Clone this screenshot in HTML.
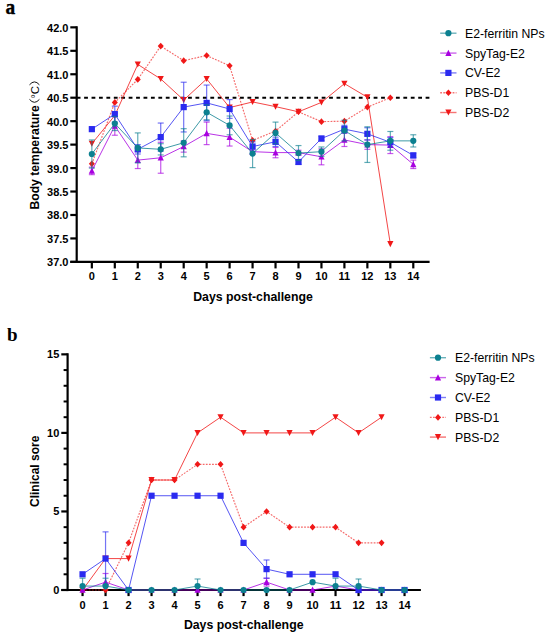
<!DOCTYPE html>
<html><head><meta charset="utf-8"><style>
html,body{margin:0;padding:0;background:#fff;}
body{width:550px;height:637px;overflow:hidden;}
svg{display:block;}
</style></head><body>
<svg width="550" height="637" viewBox="0 0 550 637">
<rect width="550" height="637" fill="#fff"/>
<text transform="translate(5.6,13.8) scale(0.97,1)" font-family='"Liberation Serif", serif' font-size="20" font-weight="bold" stroke="#000" stroke-width="0.35">a</text>
<line x1="76.70" y1="26.25" x2="76.70" y2="263.00" stroke="#000" stroke-width="2.2"/>
<line x1="70.3" y1="261.90" x2="429.6" y2="261.90" stroke="#000" stroke-width="2.2"/>
<line x1="70.3" y1="261.90" x2="76.70" y2="261.90" stroke="#000" stroke-width="2.2"/>
<text x="68.50" y="266.40" font-family='"Liberation Sans", sans-serif' font-size="11" font-weight="bold" text-anchor="end">37.0</text>
<line x1="70.3" y1="238.44" x2="76.70" y2="238.44" stroke="#000" stroke-width="2.2"/>
<text x="68.50" y="242.94" font-family='"Liberation Sans", sans-serif' font-size="11" font-weight="bold" text-anchor="end">37.5</text>
<line x1="70.3" y1="214.99" x2="76.70" y2="214.99" stroke="#000" stroke-width="2.2"/>
<text x="68.50" y="219.49" font-family='"Liberation Sans", sans-serif' font-size="11" font-weight="bold" text-anchor="end">38.0</text>
<line x1="70.3" y1="191.53" x2="76.70" y2="191.53" stroke="#000" stroke-width="2.2"/>
<text x="68.50" y="196.03" font-family='"Liberation Sans", sans-serif' font-size="11" font-weight="bold" text-anchor="end">38.5</text>
<line x1="70.3" y1="168.08" x2="76.70" y2="168.08" stroke="#000" stroke-width="2.2"/>
<text x="68.50" y="172.58" font-family='"Liberation Sans", sans-serif' font-size="11" font-weight="bold" text-anchor="end">39.0</text>
<line x1="70.3" y1="144.62" x2="76.70" y2="144.62" stroke="#000" stroke-width="2.2"/>
<text x="68.50" y="149.12" font-family='"Liberation Sans", sans-serif' font-size="11" font-weight="bold" text-anchor="end">39.5</text>
<line x1="70.3" y1="121.17" x2="76.70" y2="121.17" stroke="#000" stroke-width="2.2"/>
<text x="68.50" y="125.67" font-family='"Liberation Sans", sans-serif' font-size="11" font-weight="bold" text-anchor="end">40.0</text>
<line x1="70.3" y1="97.71" x2="76.70" y2="97.71" stroke="#000" stroke-width="2.2"/>
<text x="68.50" y="102.21" font-family='"Liberation Sans", sans-serif' font-size="11" font-weight="bold" text-anchor="end">40.5</text>
<line x1="70.3" y1="74.26" x2="76.70" y2="74.26" stroke="#000" stroke-width="2.2"/>
<text x="68.50" y="78.76" font-family='"Liberation Sans", sans-serif' font-size="11" font-weight="bold" text-anchor="end">41.0</text>
<line x1="70.3" y1="50.81" x2="76.70" y2="50.81" stroke="#000" stroke-width="2.2"/>
<text x="68.50" y="55.31" font-family='"Liberation Sans", sans-serif' font-size="11" font-weight="bold" text-anchor="end">41.5</text>
<line x1="70.3" y1="27.35" x2="76.70" y2="27.35" stroke="#000" stroke-width="2.2"/>
<text x="68.50" y="31.85" font-family='"Liberation Sans", sans-serif' font-size="11" font-weight="bold" text-anchor="end">42.0</text>
<line x1="91.85" y1="261.90" x2="91.85" y2="268.4" stroke="#000" stroke-width="2.2"/>
<text x="91.85" y="280.30" font-family='"Liberation Sans", sans-serif' font-size="11" font-weight="bold" text-anchor="middle">0</text>
<line x1="114.81" y1="261.90" x2="114.81" y2="268.4" stroke="#000" stroke-width="2.2"/>
<text x="114.81" y="280.30" font-family='"Liberation Sans", sans-serif' font-size="11" font-weight="bold" text-anchor="middle">1</text>
<line x1="137.77" y1="261.90" x2="137.77" y2="268.4" stroke="#000" stroke-width="2.2"/>
<text x="137.77" y="280.30" font-family='"Liberation Sans", sans-serif' font-size="11" font-weight="bold" text-anchor="middle">2</text>
<line x1="160.73" y1="261.90" x2="160.73" y2="268.4" stroke="#000" stroke-width="2.2"/>
<text x="160.73" y="280.30" font-family='"Liberation Sans", sans-serif' font-size="11" font-weight="bold" text-anchor="middle">3</text>
<line x1="183.69" y1="261.90" x2="183.69" y2="268.4" stroke="#000" stroke-width="2.2"/>
<text x="183.69" y="280.30" font-family='"Liberation Sans", sans-serif' font-size="11" font-weight="bold" text-anchor="middle">4</text>
<line x1="206.65" y1="261.90" x2="206.65" y2="268.4" stroke="#000" stroke-width="2.2"/>
<text x="206.65" y="280.30" font-family='"Liberation Sans", sans-serif' font-size="11" font-weight="bold" text-anchor="middle">5</text>
<line x1="229.61" y1="261.90" x2="229.61" y2="268.4" stroke="#000" stroke-width="2.2"/>
<text x="229.61" y="280.30" font-family='"Liberation Sans", sans-serif' font-size="11" font-weight="bold" text-anchor="middle">6</text>
<line x1="252.57" y1="261.90" x2="252.57" y2="268.4" stroke="#000" stroke-width="2.2"/>
<text x="252.57" y="280.30" font-family='"Liberation Sans", sans-serif' font-size="11" font-weight="bold" text-anchor="middle">7</text>
<line x1="275.53" y1="261.90" x2="275.53" y2="268.4" stroke="#000" stroke-width="2.2"/>
<text x="275.53" y="280.30" font-family='"Liberation Sans", sans-serif' font-size="11" font-weight="bold" text-anchor="middle">8</text>
<line x1="298.49" y1="261.90" x2="298.49" y2="268.4" stroke="#000" stroke-width="2.2"/>
<text x="298.49" y="280.30" font-family='"Liberation Sans", sans-serif' font-size="11" font-weight="bold" text-anchor="middle">9</text>
<line x1="321.45" y1="261.90" x2="321.45" y2="268.4" stroke="#000" stroke-width="2.2"/>
<text x="321.45" y="280.30" font-family='"Liberation Sans", sans-serif' font-size="11" font-weight="bold" text-anchor="middle">10</text>
<line x1="344.41" y1="261.90" x2="344.41" y2="268.4" stroke="#000" stroke-width="2.2"/>
<text x="344.41" y="280.30" font-family='"Liberation Sans", sans-serif' font-size="11" font-weight="bold" text-anchor="middle">11</text>
<line x1="367.37" y1="261.90" x2="367.37" y2="268.4" stroke="#000" stroke-width="2.2"/>
<text x="367.37" y="280.30" font-family='"Liberation Sans", sans-serif' font-size="11" font-weight="bold" text-anchor="middle">12</text>
<line x1="390.33" y1="261.90" x2="390.33" y2="268.4" stroke="#000" stroke-width="2.2"/>
<text x="390.33" y="280.30" font-family='"Liberation Sans", sans-serif' font-size="11" font-weight="bold" text-anchor="middle">13</text>
<line x1="413.29" y1="261.90" x2="413.29" y2="268.4" stroke="#000" stroke-width="2.2"/>
<text x="413.29" y="280.30" font-family='"Liberation Sans", sans-serif' font-size="11" font-weight="bold" text-anchor="middle">14</text>
<text x="253.00" y="301.00" font-family='"Liberation Sans", sans-serif' font-size="12.3" font-weight="bold" text-anchor="middle">Days post-challenge</text>
<text transform="translate(39.1,209.6) rotate(-90)" font-family='"Liberation Sans", sans-serif' font-size="12.2" font-weight="bold">Body temperature</text>
<text transform="translate(39.0,85.9) rotate(-90)" font-family='"Liberation Sans", sans-serif' font-size="11.5" text-anchor="end">°C</text>
<path d="M29.5 84.8 Q34.45 79.0 39.4 84.8" fill="none" stroke="#111" stroke-width="1"/>
<path d="M29.5 99.4 Q34.45 105.2 39.4 99.4" fill="none" stroke="#111" stroke-width="1"/>
<line x1="76.7" y1="97.71" x2="429.4" y2="97.71" stroke="#000" stroke-width="2" stroke-dasharray="3.8,3.624"/>
<polyline points="91.85,143.69 114.81,115.54 137.77,64.41 160.73,78.95 183.69,100.06 206.65,78.95 229.61,107.57 252.57,101.94 275.53,106.63 298.49,111.79 321.45,102.41 344.41,83.64 367.37,97.25 390.33,244.07" fill="none" stroke="#f01818" stroke-width="1.0" stroke-opacity="0.8"/>
<polygon points="88.75,140.69 94.95,140.69 91.85,146.79" fill="#f01818"/>
<polygon points="111.71,112.54 117.91,112.54 114.81,118.64" fill="#f01818"/>
<polygon points="134.67,61.41 140.87,61.41 137.77,67.51" fill="#f01818"/>
<polygon points="157.63,75.95 163.83,75.95 160.73,82.05" fill="#f01818"/>
<polygon points="180.59,97.06 186.79,97.06 183.69,103.16" fill="#f01818"/>
<polygon points="203.55,75.95 209.75,75.95 206.65,82.05" fill="#f01818"/>
<polygon points="226.51,104.57 232.71,104.57 229.61,110.67" fill="#f01818"/>
<polygon points="249.47,98.94 255.67,98.94 252.57,105.04" fill="#f01818"/>
<polygon points="272.43,103.63 278.63,103.63 275.53,109.73" fill="#f01818"/>
<polygon points="295.39,108.79 301.59,108.79 298.49,114.89" fill="#f01818"/>
<polygon points="318.35,99.41 324.55,99.41 321.45,105.51" fill="#f01818"/>
<polygon points="341.31,80.64 347.51,80.64 344.41,86.74" fill="#f01818"/>
<polygon points="364.27,94.25 370.47,94.25 367.37,100.35" fill="#f01818"/>
<polygon points="387.23,241.07 393.43,241.07 390.33,247.17" fill="#f01818"/>
<polyline points="91.85,163.86 114.81,102.41 137.77,79.42 160.73,46.11 183.69,60.66 206.65,55.50 229.61,65.82 252.57,140.40 275.53,131.02 298.49,111.79 321.45,121.64 344.41,121.17 367.37,107.10 390.33,97.71" fill="none" stroke="#f01818" stroke-width="1.15" stroke-opacity="0.65" stroke-dasharray="1.8,1.3"/>
<polygon points="91.85,160.56 94.85,163.86 91.85,167.16 88.85,163.86" fill="#f01818"/>
<polygon points="114.81,99.11 117.81,102.41 114.81,105.71 111.81,102.41" fill="#f01818"/>
<polygon points="137.77,76.12 140.77,79.42 137.77,82.72 134.77,79.42" fill="#f01818"/>
<polygon points="160.73,42.81 163.73,46.11 160.73,49.41 157.73,46.11" fill="#f01818"/>
<polygon points="183.69,57.36 186.69,60.66 183.69,63.96 180.69,60.66" fill="#f01818"/>
<polygon points="206.65,52.20 209.65,55.50 206.65,58.80 203.65,55.50" fill="#f01818"/>
<polygon points="229.61,62.52 232.61,65.82 229.61,69.12 226.61,65.82" fill="#f01818"/>
<polygon points="252.57,137.10 255.57,140.40 252.57,143.70 249.57,140.40" fill="#f01818"/>
<polygon points="275.53,127.72 278.53,131.02 275.53,134.32 272.53,131.02" fill="#f01818"/>
<polygon points="298.49,108.49 301.49,111.79 298.49,115.09 295.49,111.79" fill="#f01818"/>
<polygon points="321.45,118.34 324.45,121.64 321.45,124.94 318.45,121.64" fill="#f01818"/>
<polygon points="344.41,117.87 347.41,121.17 344.41,124.47 341.41,121.17" fill="#f01818"/>
<polygon points="367.37,103.80 370.37,107.10 367.37,110.40 364.37,107.10" fill="#f01818"/>
<polygon points="390.33,94.41 393.33,97.71 390.33,101.01 387.33,97.71" fill="#f01818"/>
<polyline points="91.85,170.89 114.81,125.86 137.77,160.11 160.73,157.76 183.69,146.50 206.65,133.37 229.61,137.12 252.57,151.66 275.53,152.60 298.49,152.60 321.45,156.82 344.41,139.93 367.37,144.62 390.33,145.09 413.29,164.33" fill="none" stroke="#a800e0" stroke-width="1.0" stroke-opacity="0.8"/>
<line x1="91.85" y1="167.14" x2="91.85" y2="174.65" stroke="#a800e0" stroke-width="1.2" stroke-opacity="0.65"/>
<line x1="88.85" y1="167.14" x2="94.85" y2="167.14" stroke="#a800e0" stroke-width="1.2" stroke-opacity="0.65"/>
<line x1="88.85" y1="174.65" x2="94.85" y2="174.65" stroke="#a800e0" stroke-width="1.2" stroke-opacity="0.65"/>
<line x1="114.81" y1="116.48" x2="114.81" y2="135.24" stroke="#a800e0" stroke-width="1.2" stroke-opacity="0.65"/>
<line x1="111.81" y1="116.48" x2="117.81" y2="116.48" stroke="#a800e0" stroke-width="1.2" stroke-opacity="0.65"/>
<line x1="111.81" y1="135.24" x2="117.81" y2="135.24" stroke="#a800e0" stroke-width="1.2" stroke-opacity="0.65"/>
<line x1="137.77" y1="151.66" x2="137.77" y2="168.55" stroke="#a800e0" stroke-width="1.2" stroke-opacity="0.65"/>
<line x1="134.77" y1="151.66" x2="140.77" y2="151.66" stroke="#a800e0" stroke-width="1.2" stroke-opacity="0.65"/>
<line x1="134.77" y1="168.55" x2="140.77" y2="168.55" stroke="#a800e0" stroke-width="1.2" stroke-opacity="0.65"/>
<line x1="160.73" y1="142.28" x2="160.73" y2="173.24" stroke="#a800e0" stroke-width="1.2" stroke-opacity="0.65"/>
<line x1="157.73" y1="142.28" x2="163.73" y2="142.28" stroke="#a800e0" stroke-width="1.2" stroke-opacity="0.65"/>
<line x1="157.73" y1="173.24" x2="163.73" y2="173.24" stroke="#a800e0" stroke-width="1.2" stroke-opacity="0.65"/>
<line x1="183.69" y1="140.87" x2="183.69" y2="152.13" stroke="#a800e0" stroke-width="1.2" stroke-opacity="0.65"/>
<line x1="180.69" y1="140.87" x2="186.69" y2="140.87" stroke="#a800e0" stroke-width="1.2" stroke-opacity="0.65"/>
<line x1="180.69" y1="152.13" x2="186.69" y2="152.13" stroke="#a800e0" stroke-width="1.2" stroke-opacity="0.65"/>
<line x1="206.65" y1="122.11" x2="206.65" y2="144.62" stroke="#a800e0" stroke-width="1.2" stroke-opacity="0.65"/>
<line x1="203.65" y1="122.11" x2="209.65" y2="122.11" stroke="#a800e0" stroke-width="1.2" stroke-opacity="0.65"/>
<line x1="203.65" y1="144.62" x2="209.65" y2="144.62" stroke="#a800e0" stroke-width="1.2" stroke-opacity="0.65"/>
<line x1="229.61" y1="128.21" x2="229.61" y2="146.03" stroke="#a800e0" stroke-width="1.2" stroke-opacity="0.65"/>
<line x1="226.61" y1="128.21" x2="232.61" y2="128.21" stroke="#a800e0" stroke-width="1.2" stroke-opacity="0.65"/>
<line x1="226.61" y1="146.03" x2="232.61" y2="146.03" stroke="#a800e0" stroke-width="1.2" stroke-opacity="0.65"/>
<line x1="252.57" y1="149.32" x2="252.57" y2="154.01" stroke="#a800e0" stroke-width="1.2" stroke-opacity="0.65"/>
<line x1="249.57" y1="149.32" x2="255.57" y2="149.32" stroke="#a800e0" stroke-width="1.2" stroke-opacity="0.65"/>
<line x1="249.57" y1="154.01" x2="255.57" y2="154.01" stroke="#a800e0" stroke-width="1.2" stroke-opacity="0.65"/>
<line x1="275.53" y1="147.44" x2="275.53" y2="157.76" stroke="#a800e0" stroke-width="1.2" stroke-opacity="0.65"/>
<line x1="272.53" y1="147.44" x2="278.53" y2="147.44" stroke="#a800e0" stroke-width="1.2" stroke-opacity="0.65"/>
<line x1="272.53" y1="157.76" x2="278.53" y2="157.76" stroke="#a800e0" stroke-width="1.2" stroke-opacity="0.65"/>
<line x1="298.49" y1="150.25" x2="298.49" y2="154.95" stroke="#a800e0" stroke-width="1.2" stroke-opacity="0.65"/>
<line x1="295.49" y1="150.25" x2="301.49" y2="150.25" stroke="#a800e0" stroke-width="1.2" stroke-opacity="0.65"/>
<line x1="295.49" y1="154.95" x2="301.49" y2="154.95" stroke="#a800e0" stroke-width="1.2" stroke-opacity="0.65"/>
<line x1="321.45" y1="148.85" x2="321.45" y2="164.80" stroke="#a800e0" stroke-width="1.2" stroke-opacity="0.65"/>
<line x1="318.45" y1="148.85" x2="324.45" y2="148.85" stroke="#a800e0" stroke-width="1.2" stroke-opacity="0.65"/>
<line x1="318.45" y1="164.80" x2="324.45" y2="164.80" stroke="#a800e0" stroke-width="1.2" stroke-opacity="0.65"/>
<line x1="344.41" y1="133.37" x2="344.41" y2="146.50" stroke="#a800e0" stroke-width="1.2" stroke-opacity="0.65"/>
<line x1="341.41" y1="133.37" x2="347.41" y2="133.37" stroke="#a800e0" stroke-width="1.2" stroke-opacity="0.65"/>
<line x1="341.41" y1="146.50" x2="347.41" y2="146.50" stroke="#a800e0" stroke-width="1.2" stroke-opacity="0.65"/>
<line x1="367.37" y1="139.93" x2="367.37" y2="149.32" stroke="#a800e0" stroke-width="1.2" stroke-opacity="0.65"/>
<line x1="364.37" y1="139.93" x2="370.37" y2="139.93" stroke="#a800e0" stroke-width="1.2" stroke-opacity="0.65"/>
<line x1="364.37" y1="149.32" x2="370.37" y2="149.32" stroke="#a800e0" stroke-width="1.2" stroke-opacity="0.65"/>
<line x1="390.33" y1="136.65" x2="390.33" y2="153.54" stroke="#a800e0" stroke-width="1.2" stroke-opacity="0.65"/>
<line x1="387.33" y1="136.65" x2="393.33" y2="136.65" stroke="#a800e0" stroke-width="1.2" stroke-opacity="0.65"/>
<line x1="387.33" y1="153.54" x2="393.33" y2="153.54" stroke="#a800e0" stroke-width="1.2" stroke-opacity="0.65"/>
<line x1="413.29" y1="160.11" x2="413.29" y2="168.55" stroke="#a800e0" stroke-width="1.2" stroke-opacity="0.65"/>
<line x1="410.29" y1="160.11" x2="416.29" y2="160.11" stroke="#a800e0" stroke-width="1.2" stroke-opacity="0.65"/>
<line x1="410.29" y1="168.55" x2="416.29" y2="168.55" stroke="#a800e0" stroke-width="1.2" stroke-opacity="0.65"/>
<polygon points="91.85,167.49 94.95,173.69 88.75,173.69" fill="#a800e0"/>
<polygon points="114.81,122.46 117.91,128.66 111.71,128.66" fill="#a800e0"/>
<polygon points="137.77,156.71 140.87,162.91 134.67,162.91" fill="#a800e0"/>
<polygon points="160.73,154.36 163.83,160.56 157.63,160.56" fill="#a800e0"/>
<polygon points="183.69,143.10 186.79,149.30 180.59,149.30" fill="#a800e0"/>
<polygon points="206.65,129.97 209.75,136.17 203.55,136.17" fill="#a800e0"/>
<polygon points="229.61,133.72 232.71,139.92 226.51,139.92" fill="#a800e0"/>
<polygon points="252.57,148.26 255.67,154.46 249.47,154.46" fill="#a800e0"/>
<polygon points="275.53,149.20 278.63,155.40 272.43,155.40" fill="#a800e0"/>
<polygon points="298.49,149.20 301.59,155.40 295.39,155.40" fill="#a800e0"/>
<polygon points="321.45,153.42 324.55,159.62 318.35,159.62" fill="#a800e0"/>
<polygon points="344.41,136.53 347.51,142.73 341.31,142.73" fill="#a800e0"/>
<polygon points="367.37,141.22 370.47,147.43 364.27,147.43" fill="#a800e0"/>
<polygon points="390.33,141.69 393.43,147.89 387.23,147.89" fill="#a800e0"/>
<polygon points="413.29,160.93 416.39,167.13 410.19,167.13" fill="#a800e0"/>
<polyline points="91.85,129.14 114.81,114.13 137.77,149.32 160.73,137.12 183.69,107.10 206.65,102.88 229.61,108.97 252.57,146.50 275.53,141.81 298.49,161.98 321.45,138.53 344.41,129.14 367.37,133.84 390.33,142.28 413.29,155.41" fill="none" stroke="#2a2af0" stroke-width="1.0" stroke-opacity="0.8"/>
<line x1="114.81" y1="106.16" x2="114.81" y2="122.11" stroke="#2a2af0" stroke-width="1.2" stroke-opacity="0.65"/>
<line x1="111.81" y1="106.16" x2="117.81" y2="106.16" stroke="#2a2af0" stroke-width="1.2" stroke-opacity="0.65"/>
<line x1="111.81" y1="122.11" x2="117.81" y2="122.11" stroke="#2a2af0" stroke-width="1.2" stroke-opacity="0.65"/>
<line x1="137.77" y1="144.62" x2="137.77" y2="154.01" stroke="#2a2af0" stroke-width="1.2" stroke-opacity="0.65"/>
<line x1="134.77" y1="144.62" x2="140.77" y2="144.62" stroke="#2a2af0" stroke-width="1.2" stroke-opacity="0.65"/>
<line x1="134.77" y1="154.01" x2="140.77" y2="154.01" stroke="#2a2af0" stroke-width="1.2" stroke-opacity="0.65"/>
<line x1="160.73" y1="123.05" x2="160.73" y2="151.19" stroke="#2a2af0" stroke-width="1.2" stroke-opacity="0.65"/>
<line x1="157.73" y1="123.05" x2="163.73" y2="123.05" stroke="#2a2af0" stroke-width="1.2" stroke-opacity="0.65"/>
<line x1="157.73" y1="151.19" x2="163.73" y2="151.19" stroke="#2a2af0" stroke-width="1.2" stroke-opacity="0.65"/>
<line x1="183.69" y1="82.23" x2="183.69" y2="131.96" stroke="#2a2af0" stroke-width="1.2" stroke-opacity="0.65"/>
<line x1="180.69" y1="82.23" x2="186.69" y2="82.23" stroke="#2a2af0" stroke-width="1.2" stroke-opacity="0.65"/>
<line x1="180.69" y1="131.96" x2="186.69" y2="131.96" stroke="#2a2af0" stroke-width="1.2" stroke-opacity="0.65"/>
<line x1="206.65" y1="85.05" x2="206.65" y2="120.70" stroke="#2a2af0" stroke-width="1.2" stroke-opacity="0.65"/>
<line x1="203.65" y1="85.05" x2="209.65" y2="85.05" stroke="#2a2af0" stroke-width="1.2" stroke-opacity="0.65"/>
<line x1="203.65" y1="120.70" x2="209.65" y2="120.70" stroke="#2a2af0" stroke-width="1.2" stroke-opacity="0.65"/>
<line x1="229.61" y1="99.59" x2="229.61" y2="118.36" stroke="#2a2af0" stroke-width="1.2" stroke-opacity="0.65"/>
<line x1="226.61" y1="99.59" x2="232.61" y2="99.59" stroke="#2a2af0" stroke-width="1.2" stroke-opacity="0.65"/>
<line x1="226.61" y1="118.36" x2="232.61" y2="118.36" stroke="#2a2af0" stroke-width="1.2" stroke-opacity="0.65"/>
<line x1="252.57" y1="141.81" x2="252.57" y2="151.19" stroke="#2a2af0" stroke-width="1.2" stroke-opacity="0.65"/>
<line x1="249.57" y1="141.81" x2="255.57" y2="141.81" stroke="#2a2af0" stroke-width="1.2" stroke-opacity="0.65"/>
<line x1="249.57" y1="151.19" x2="255.57" y2="151.19" stroke="#2a2af0" stroke-width="1.2" stroke-opacity="0.65"/>
<line x1="275.53" y1="137.12" x2="275.53" y2="146.50" stroke="#2a2af0" stroke-width="1.2" stroke-opacity="0.65"/>
<line x1="272.53" y1="137.12" x2="278.53" y2="137.12" stroke="#2a2af0" stroke-width="1.2" stroke-opacity="0.65"/>
<line x1="272.53" y1="146.50" x2="278.53" y2="146.50" stroke="#2a2af0" stroke-width="1.2" stroke-opacity="0.65"/>
<line x1="298.49" y1="159.64" x2="298.49" y2="164.33" stroke="#2a2af0" stroke-width="1.2" stroke-opacity="0.65"/>
<line x1="295.49" y1="159.64" x2="301.49" y2="159.64" stroke="#2a2af0" stroke-width="1.2" stroke-opacity="0.65"/>
<line x1="295.49" y1="164.33" x2="301.49" y2="164.33" stroke="#2a2af0" stroke-width="1.2" stroke-opacity="0.65"/>
<line x1="321.45" y1="136.18" x2="321.45" y2="140.87" stroke="#2a2af0" stroke-width="1.2" stroke-opacity="0.65"/>
<line x1="318.45" y1="136.18" x2="324.45" y2="136.18" stroke="#2a2af0" stroke-width="1.2" stroke-opacity="0.65"/>
<line x1="318.45" y1="140.87" x2="324.45" y2="140.87" stroke="#2a2af0" stroke-width="1.2" stroke-opacity="0.65"/>
<line x1="344.41" y1="125.39" x2="344.41" y2="132.90" stroke="#2a2af0" stroke-width="1.2" stroke-opacity="0.65"/>
<line x1="341.41" y1="125.39" x2="347.41" y2="125.39" stroke="#2a2af0" stroke-width="1.2" stroke-opacity="0.65"/>
<line x1="341.41" y1="132.90" x2="347.41" y2="132.90" stroke="#2a2af0" stroke-width="1.2" stroke-opacity="0.65"/>
<line x1="367.37" y1="127.74" x2="367.37" y2="139.93" stroke="#2a2af0" stroke-width="1.2" stroke-opacity="0.65"/>
<line x1="364.37" y1="127.74" x2="370.37" y2="127.74" stroke="#2a2af0" stroke-width="1.2" stroke-opacity="0.65"/>
<line x1="364.37" y1="139.93" x2="370.37" y2="139.93" stroke="#2a2af0" stroke-width="1.2" stroke-opacity="0.65"/>
<line x1="390.33" y1="137.59" x2="390.33" y2="146.97" stroke="#2a2af0" stroke-width="1.2" stroke-opacity="0.65"/>
<line x1="387.33" y1="137.59" x2="393.33" y2="137.59" stroke="#2a2af0" stroke-width="1.2" stroke-opacity="0.65"/>
<line x1="387.33" y1="146.97" x2="393.33" y2="146.97" stroke="#2a2af0" stroke-width="1.2" stroke-opacity="0.65"/>
<line x1="413.29" y1="153.07" x2="413.29" y2="157.76" stroke="#2a2af0" stroke-width="1.2" stroke-opacity="0.65"/>
<line x1="410.29" y1="153.07" x2="416.29" y2="153.07" stroke="#2a2af0" stroke-width="1.2" stroke-opacity="0.65"/>
<line x1="410.29" y1="157.76" x2="416.29" y2="157.76" stroke="#2a2af0" stroke-width="1.2" stroke-opacity="0.65"/>
<rect x="88.75" y="126.04" width="6.20" height="6.20" fill="#2a2af0"/>
<rect x="111.71" y="111.03" width="6.20" height="6.20" fill="#2a2af0"/>
<rect x="134.67" y="146.22" width="6.20" height="6.20" fill="#2a2af0"/>
<rect x="157.63" y="134.02" width="6.20" height="6.20" fill="#2a2af0"/>
<rect x="180.59" y="104.00" width="6.20" height="6.20" fill="#2a2af0"/>
<rect x="203.55" y="99.78" width="6.20" height="6.20" fill="#2a2af0"/>
<rect x="226.51" y="105.87" width="6.20" height="6.20" fill="#2a2af0"/>
<rect x="249.47" y="143.40" width="6.20" height="6.20" fill="#2a2af0"/>
<rect x="272.43" y="138.71" width="6.20" height="6.20" fill="#2a2af0"/>
<rect x="295.39" y="158.88" width="6.20" height="6.20" fill="#2a2af0"/>
<rect x="318.35" y="135.43" width="6.20" height="6.20" fill="#2a2af0"/>
<rect x="341.31" y="126.04" width="6.20" height="6.20" fill="#2a2af0"/>
<rect x="364.27" y="130.74" width="6.20" height="6.20" fill="#2a2af0"/>
<rect x="387.23" y="139.18" width="6.20" height="6.20" fill="#2a2af0"/>
<rect x="410.19" y="152.31" width="6.20" height="6.20" fill="#2a2af0"/>
<polyline points="91.85,154.01 114.81,123.52 137.77,147.91 160.73,149.32 183.69,142.75 206.65,112.26 229.61,125.39 252.57,153.54 275.53,132.90 298.49,153.07 321.45,151.66 344.41,130.55 367.37,144.62 390.33,140.87 413.29,140.87" fill="none" stroke="#0c8090" stroke-width="1.0" stroke-opacity="0.8"/>
<line x1="91.85" y1="139.93" x2="91.85" y2="168.08" stroke="#0c8090" stroke-width="1.2" stroke-opacity="0.65"/>
<line x1="88.85" y1="139.93" x2="94.85" y2="139.93" stroke="#0c8090" stroke-width="1.2" stroke-opacity="0.65"/>
<line x1="88.85" y1="168.08" x2="94.85" y2="168.08" stroke="#0c8090" stroke-width="1.2" stroke-opacity="0.65"/>
<line x1="114.81" y1="116.48" x2="114.81" y2="130.55" stroke="#0c8090" stroke-width="1.2" stroke-opacity="0.65"/>
<line x1="111.81" y1="116.48" x2="117.81" y2="116.48" stroke="#0c8090" stroke-width="1.2" stroke-opacity="0.65"/>
<line x1="111.81" y1="130.55" x2="117.81" y2="130.55" stroke="#0c8090" stroke-width="1.2" stroke-opacity="0.65"/>
<line x1="137.77" y1="132.90" x2="137.77" y2="162.92" stroke="#0c8090" stroke-width="1.2" stroke-opacity="0.65"/>
<line x1="134.77" y1="132.90" x2="140.77" y2="132.90" stroke="#0c8090" stroke-width="1.2" stroke-opacity="0.65"/>
<line x1="134.77" y1="162.92" x2="140.77" y2="162.92" stroke="#0c8090" stroke-width="1.2" stroke-opacity="0.65"/>
<line x1="160.73" y1="143.69" x2="160.73" y2="154.95" stroke="#0c8090" stroke-width="1.2" stroke-opacity="0.65"/>
<line x1="157.73" y1="143.69" x2="163.73" y2="143.69" stroke="#0c8090" stroke-width="1.2" stroke-opacity="0.65"/>
<line x1="157.73" y1="154.95" x2="163.73" y2="154.95" stroke="#0c8090" stroke-width="1.2" stroke-opacity="0.65"/>
<line x1="183.69" y1="128.68" x2="183.69" y2="156.82" stroke="#0c8090" stroke-width="1.2" stroke-opacity="0.65"/>
<line x1="180.69" y1="128.68" x2="186.69" y2="128.68" stroke="#0c8090" stroke-width="1.2" stroke-opacity="0.65"/>
<line x1="180.69" y1="156.82" x2="186.69" y2="156.82" stroke="#0c8090" stroke-width="1.2" stroke-opacity="0.65"/>
<line x1="206.65" y1="104.75" x2="206.65" y2="119.76" stroke="#0c8090" stroke-width="1.2" stroke-opacity="0.65"/>
<line x1="203.65" y1="104.75" x2="209.65" y2="104.75" stroke="#0c8090" stroke-width="1.2" stroke-opacity="0.65"/>
<line x1="203.65" y1="119.76" x2="209.65" y2="119.76" stroke="#0c8090" stroke-width="1.2" stroke-opacity="0.65"/>
<line x1="229.61" y1="116.01" x2="229.61" y2="134.77" stroke="#0c8090" stroke-width="1.2" stroke-opacity="0.65"/>
<line x1="226.61" y1="116.01" x2="232.61" y2="116.01" stroke="#0c8090" stroke-width="1.2" stroke-opacity="0.65"/>
<line x1="226.61" y1="134.77" x2="232.61" y2="134.77" stroke="#0c8090" stroke-width="1.2" stroke-opacity="0.65"/>
<line x1="252.57" y1="139.46" x2="252.57" y2="167.61" stroke="#0c8090" stroke-width="1.2" stroke-opacity="0.65"/>
<line x1="249.57" y1="139.46" x2="255.57" y2="139.46" stroke="#0c8090" stroke-width="1.2" stroke-opacity="0.65"/>
<line x1="249.57" y1="167.61" x2="255.57" y2="167.61" stroke="#0c8090" stroke-width="1.2" stroke-opacity="0.65"/>
<line x1="275.53" y1="122.11" x2="275.53" y2="143.69" stroke="#0c8090" stroke-width="1.2" stroke-opacity="0.65"/>
<line x1="272.53" y1="122.11" x2="278.53" y2="122.11" stroke="#0c8090" stroke-width="1.2" stroke-opacity="0.65"/>
<line x1="272.53" y1="143.69" x2="278.53" y2="143.69" stroke="#0c8090" stroke-width="1.2" stroke-opacity="0.65"/>
<line x1="298.49" y1="145.56" x2="298.49" y2="160.57" stroke="#0c8090" stroke-width="1.2" stroke-opacity="0.65"/>
<line x1="295.49" y1="145.56" x2="301.49" y2="145.56" stroke="#0c8090" stroke-width="1.2" stroke-opacity="0.65"/>
<line x1="295.49" y1="160.57" x2="301.49" y2="160.57" stroke="#0c8090" stroke-width="1.2" stroke-opacity="0.65"/>
<line x1="321.45" y1="146.97" x2="321.45" y2="156.35" stroke="#0c8090" stroke-width="1.2" stroke-opacity="0.65"/>
<line x1="318.45" y1="146.97" x2="324.45" y2="146.97" stroke="#0c8090" stroke-width="1.2" stroke-opacity="0.65"/>
<line x1="318.45" y1="156.35" x2="324.45" y2="156.35" stroke="#0c8090" stroke-width="1.2" stroke-opacity="0.65"/>
<line x1="344.41" y1="120.23" x2="344.41" y2="140.87" stroke="#0c8090" stroke-width="1.2" stroke-opacity="0.65"/>
<line x1="341.41" y1="120.23" x2="347.41" y2="120.23" stroke="#0c8090" stroke-width="1.2" stroke-opacity="0.65"/>
<line x1="341.41" y1="140.87" x2="347.41" y2="140.87" stroke="#0c8090" stroke-width="1.2" stroke-opacity="0.65"/>
<line x1="367.37" y1="126.80" x2="367.37" y2="162.45" stroke="#0c8090" stroke-width="1.2" stroke-opacity="0.65"/>
<line x1="364.37" y1="126.80" x2="370.37" y2="126.80" stroke="#0c8090" stroke-width="1.2" stroke-opacity="0.65"/>
<line x1="364.37" y1="162.45" x2="370.37" y2="162.45" stroke="#0c8090" stroke-width="1.2" stroke-opacity="0.65"/>
<line x1="390.33" y1="131.49" x2="390.33" y2="150.25" stroke="#0c8090" stroke-width="1.2" stroke-opacity="0.65"/>
<line x1="387.33" y1="131.49" x2="393.33" y2="131.49" stroke="#0c8090" stroke-width="1.2" stroke-opacity="0.65"/>
<line x1="387.33" y1="150.25" x2="393.33" y2="150.25" stroke="#0c8090" stroke-width="1.2" stroke-opacity="0.65"/>
<line x1="413.29" y1="134.77" x2="413.29" y2="146.97" stroke="#0c8090" stroke-width="1.2" stroke-opacity="0.65"/>
<line x1="410.29" y1="134.77" x2="416.29" y2="134.77" stroke="#0c8090" stroke-width="1.2" stroke-opacity="0.65"/>
<line x1="410.29" y1="146.97" x2="416.29" y2="146.97" stroke="#0c8090" stroke-width="1.2" stroke-opacity="0.65"/>
<circle cx="91.85" cy="154.01" r="3.1" fill="#0c8090"/>
<circle cx="114.81" cy="123.52" r="3.1" fill="#0c8090"/>
<circle cx="137.77" cy="147.91" r="3.1" fill="#0c8090"/>
<circle cx="160.73" cy="149.32" r="3.1" fill="#0c8090"/>
<circle cx="183.69" cy="142.75" r="3.1" fill="#0c8090"/>
<circle cx="206.65" cy="112.26" r="3.1" fill="#0c8090"/>
<circle cx="229.61" cy="125.39" r="3.1" fill="#0c8090"/>
<circle cx="252.57" cy="153.54" r="3.1" fill="#0c8090"/>
<circle cx="275.53" cy="132.90" r="3.1" fill="#0c8090"/>
<circle cx="298.49" cy="153.07" r="3.1" fill="#0c8090"/>
<circle cx="321.45" cy="151.66" r="3.1" fill="#0c8090"/>
<circle cx="344.41" cy="130.55" r="3.1" fill="#0c8090"/>
<circle cx="367.37" cy="144.62" r="3.1" fill="#0c8090"/>
<circle cx="390.33" cy="140.87" r="3.1" fill="#0c8090"/>
<circle cx="413.29" cy="140.87" r="3.1" fill="#0c8090"/>
<line x1="440.2" y1="33.2" x2="456.5" y2="33.2" stroke="#0c8090" stroke-width="1.4" stroke-opacity="0.6"/>
<circle cx="448.40" cy="33.20" r="3.1" fill="#0c8090"/>
<text x="465.00" y="37.60" font-family='"Liberation Sans", sans-serif' font-size="12.25" font-weight="normal" text-anchor="start">E2-ferritin NPs</text>
<line x1="440.2" y1="53.1" x2="456.5" y2="53.1" stroke="#a800e0" stroke-width="1.4" stroke-opacity="0.6"/>
<polygon points="448.40,49.70 451.50,55.90 445.30,55.90" fill="#a800e0"/>
<text x="465.00" y="57.50" font-family='"Liberation Sans", sans-serif' font-size="12.25" font-weight="normal" text-anchor="start">SpyTag-E2</text>
<line x1="440.2" y1="72.9" x2="456.5" y2="72.9" stroke="#2a2af0" stroke-width="1.4" stroke-opacity="0.6"/>
<rect x="445.30" y="69.80" width="6.20" height="6.20" fill="#2a2af0"/>
<text x="465.00" y="77.30" font-family='"Liberation Sans", sans-serif' font-size="12.25" font-weight="normal" text-anchor="start">CV-E2</text>
<line x1="440.2" y1="92.8" x2="456.5" y2="92.8" stroke="#f01818" stroke-width="1.4" stroke-opacity="0.6" stroke-dasharray="1.8,1.3"/>
<polygon points="448.40,89.50 451.40,92.80 448.40,96.10 445.40,92.80" fill="#f01818"/>
<text x="465.00" y="97.20" font-family='"Liberation Sans", sans-serif' font-size="12.25" font-weight="normal" text-anchor="start">PBS-D1</text>
<line x1="440.2" y1="112.5" x2="456.5" y2="112.5" stroke="#f01818" stroke-width="1.4" stroke-opacity="0.6"/>
<polygon points="445.30,109.50 451.50,109.50 448.40,115.60" fill="#f01818"/>
<text x="465.00" y="116.90" font-family='"Liberation Sans", sans-serif' font-size="12.25" font-weight="normal" text-anchor="start">PBS-D2</text>
<text x="6.90" y="341.20" font-family='"Liberation Serif", serif' font-size="19" font-weight="bold" text-anchor="start">b</text>
<line x1="67.60" y1="353.25" x2="67.60" y2="591.10" stroke="#000" stroke-width="2.2"/>
<line x1="61.3" y1="590.00" x2="420.9" y2="590.00" stroke="#000" stroke-width="2.2"/>
<line x1="61.3" y1="590.00" x2="67.60" y2="590.00" stroke="#000" stroke-width="2.2"/>
<text x="59.30" y="593.90" font-family='"Liberation Sans", sans-serif' font-size="11" font-weight="bold" text-anchor="end">0</text>
<line x1="63.6" y1="574.29" x2="67.60" y2="574.29" stroke="#000" stroke-width="2"/>
<line x1="63.6" y1="558.58" x2="67.60" y2="558.58" stroke="#000" stroke-width="2"/>
<line x1="63.6" y1="542.87" x2="67.60" y2="542.87" stroke="#000" stroke-width="2"/>
<line x1="63.6" y1="527.16" x2="67.60" y2="527.16" stroke="#000" stroke-width="2"/>
<line x1="61.3" y1="511.45" x2="67.60" y2="511.45" stroke="#000" stroke-width="2.2"/>
<text x="59.30" y="515.35" font-family='"Liberation Sans", sans-serif' font-size="11" font-weight="bold" text-anchor="end">5</text>
<line x1="63.6" y1="495.74" x2="67.60" y2="495.74" stroke="#000" stroke-width="2"/>
<line x1="63.6" y1="480.03" x2="67.60" y2="480.03" stroke="#000" stroke-width="2"/>
<line x1="63.6" y1="464.32" x2="67.60" y2="464.32" stroke="#000" stroke-width="2"/>
<line x1="63.6" y1="448.61" x2="67.60" y2="448.61" stroke="#000" stroke-width="2"/>
<line x1="61.3" y1="432.90" x2="67.60" y2="432.90" stroke="#000" stroke-width="2.2"/>
<text x="59.30" y="436.80" font-family='"Liberation Sans", sans-serif' font-size="11" font-weight="bold" text-anchor="end">10</text>
<line x1="63.6" y1="417.19" x2="67.60" y2="417.19" stroke="#000" stroke-width="2"/>
<line x1="63.6" y1="401.48" x2="67.60" y2="401.48" stroke="#000" stroke-width="2"/>
<line x1="63.6" y1="385.77" x2="67.60" y2="385.77" stroke="#000" stroke-width="2"/>
<line x1="63.6" y1="370.06" x2="67.60" y2="370.06" stroke="#000" stroke-width="2"/>
<line x1="61.3" y1="354.35" x2="67.60" y2="354.35" stroke="#000" stroke-width="2.2"/>
<text x="59.30" y="358.25" font-family='"Liberation Sans", sans-serif' font-size="11" font-weight="bold" text-anchor="end">15</text>
<line x1="82.55" y1="590.00" x2="82.55" y2="596.1" stroke="#000" stroke-width="2.2"/>
<text x="82.55" y="608.80" font-family='"Liberation Sans", sans-serif' font-size="11" font-weight="bold" text-anchor="middle">0</text>
<line x1="105.55" y1="590.00" x2="105.55" y2="596.1" stroke="#000" stroke-width="2.2"/>
<text x="105.55" y="608.80" font-family='"Liberation Sans", sans-serif' font-size="11" font-weight="bold" text-anchor="middle">1</text>
<line x1="128.55" y1="590.00" x2="128.55" y2="596.1" stroke="#000" stroke-width="2.2"/>
<text x="128.55" y="608.80" font-family='"Liberation Sans", sans-serif' font-size="11" font-weight="bold" text-anchor="middle">2</text>
<line x1="151.55" y1="590.00" x2="151.55" y2="596.1" stroke="#000" stroke-width="2.2"/>
<text x="151.55" y="608.80" font-family='"Liberation Sans", sans-serif' font-size="11" font-weight="bold" text-anchor="middle">3</text>
<line x1="174.55" y1="590.00" x2="174.55" y2="596.1" stroke="#000" stroke-width="2.2"/>
<text x="174.55" y="608.80" font-family='"Liberation Sans", sans-serif' font-size="11" font-weight="bold" text-anchor="middle">4</text>
<line x1="197.55" y1="590.00" x2="197.55" y2="596.1" stroke="#000" stroke-width="2.2"/>
<text x="197.55" y="608.80" font-family='"Liberation Sans", sans-serif' font-size="11" font-weight="bold" text-anchor="middle">5</text>
<line x1="220.55" y1="590.00" x2="220.55" y2="596.1" stroke="#000" stroke-width="2.2"/>
<text x="220.55" y="608.80" font-family='"Liberation Sans", sans-serif' font-size="11" font-weight="bold" text-anchor="middle">6</text>
<line x1="243.55" y1="590.00" x2="243.55" y2="596.1" stroke="#000" stroke-width="2.2"/>
<text x="243.55" y="608.80" font-family='"Liberation Sans", sans-serif' font-size="11" font-weight="bold" text-anchor="middle">7</text>
<line x1="266.55" y1="590.00" x2="266.55" y2="596.1" stroke="#000" stroke-width="2.2"/>
<text x="266.55" y="608.80" font-family='"Liberation Sans", sans-serif' font-size="11" font-weight="bold" text-anchor="middle">8</text>
<line x1="289.55" y1="590.00" x2="289.55" y2="596.1" stroke="#000" stroke-width="2.2"/>
<text x="289.55" y="608.80" font-family='"Liberation Sans", sans-serif' font-size="11" font-weight="bold" text-anchor="middle">9</text>
<line x1="312.55" y1="590.00" x2="312.55" y2="596.1" stroke="#000" stroke-width="2.2"/>
<text x="312.55" y="608.80" font-family='"Liberation Sans", sans-serif' font-size="11" font-weight="bold" text-anchor="middle">10</text>
<line x1="335.55" y1="590.00" x2="335.55" y2="596.1" stroke="#000" stroke-width="2.2"/>
<text x="335.55" y="608.80" font-family='"Liberation Sans", sans-serif' font-size="11" font-weight="bold" text-anchor="middle">11</text>
<line x1="358.55" y1="590.00" x2="358.55" y2="596.1" stroke="#000" stroke-width="2.2"/>
<text x="358.55" y="608.80" font-family='"Liberation Sans", sans-serif' font-size="11" font-weight="bold" text-anchor="middle">12</text>
<line x1="381.55" y1="590.00" x2="381.55" y2="596.1" stroke="#000" stroke-width="2.2"/>
<text x="381.55" y="608.80" font-family='"Liberation Sans", sans-serif' font-size="11" font-weight="bold" text-anchor="middle">13</text>
<line x1="404.55" y1="590.00" x2="404.55" y2="596.1" stroke="#000" stroke-width="2.2"/>
<text x="404.55" y="608.80" font-family='"Liberation Sans", sans-serif' font-size="11" font-weight="bold" text-anchor="middle">14</text>
<text x="243.70" y="628.50" font-family='"Liberation Sans", sans-serif' font-size="12.3" font-weight="bold" text-anchor="middle">Days post-challenge</text>
<text transform="translate(39,471.3) rotate(-90)" font-family='"Liberation Sans", sans-serif' font-size="12" font-weight="bold" text-anchor="middle">Clinical sore</text>
<polyline points="82.55,590.00 105.55,558.58 128.55,558.58 151.55,480.03 174.55,480.03 197.55,432.90 220.55,417.19 243.55,432.90 266.55,432.90 289.55,432.90 312.55,432.90 335.55,417.19 358.55,432.90 381.55,417.19" fill="none" stroke="#f01818" stroke-width="1.0" stroke-opacity="0.8"/>
<polygon points="79.45,587.00 85.65,587.00 82.55,593.10" fill="#f01818"/>
<polygon points="102.45,555.58 108.65,555.58 105.55,561.68" fill="#f01818"/>
<polygon points="125.45,555.58 131.65,555.58 128.55,561.68" fill="#f01818"/>
<polygon points="148.45,477.03 154.65,477.03 151.55,483.13" fill="#f01818"/>
<polygon points="171.45,477.03 177.65,477.03 174.55,483.13" fill="#f01818"/>
<polygon points="194.45,429.90 200.65,429.90 197.55,436.00" fill="#f01818"/>
<polygon points="217.45,414.19 223.65,414.19 220.55,420.29" fill="#f01818"/>
<polygon points="240.45,429.90 246.65,429.90 243.55,436.00" fill="#f01818"/>
<polygon points="263.45,429.90 269.65,429.90 266.55,436.00" fill="#f01818"/>
<polygon points="286.45,429.90 292.65,429.90 289.55,436.00" fill="#f01818"/>
<polygon points="309.45,429.90 315.65,429.90 312.55,436.00" fill="#f01818"/>
<polygon points="332.45,414.19 338.65,414.19 335.55,420.29" fill="#f01818"/>
<polygon points="355.45,429.90 361.65,429.90 358.55,436.00" fill="#f01818"/>
<polygon points="378.45,414.19 384.65,414.19 381.55,420.29" fill="#f01818"/>
<polyline points="82.55,590.00 105.55,590.00 128.55,542.87 151.55,480.03 174.55,480.03 197.55,464.32 220.55,464.32 243.55,527.16 266.55,511.45 289.55,527.16 312.55,527.16 335.55,527.16 358.55,542.87 381.55,542.87" fill="none" stroke="#f01818" stroke-width="1.15" stroke-opacity="0.65" stroke-dasharray="1.8,1.3"/>
<polygon points="82.55,586.70 85.55,590.00 82.55,593.30 79.55,590.00" fill="#f01818"/>
<polygon points="105.55,586.70 108.55,590.00 105.55,593.30 102.55,590.00" fill="#f01818"/>
<polygon points="128.55,539.57 131.55,542.87 128.55,546.17 125.55,542.87" fill="#f01818"/>
<polygon points="151.55,476.73 154.55,480.03 151.55,483.33 148.55,480.03" fill="#f01818"/>
<polygon points="174.55,476.73 177.55,480.03 174.55,483.33 171.55,480.03" fill="#f01818"/>
<polygon points="197.55,461.02 200.55,464.32 197.55,467.62 194.55,464.32" fill="#f01818"/>
<polygon points="220.55,461.02 223.55,464.32 220.55,467.62 217.55,464.32" fill="#f01818"/>
<polygon points="243.55,523.86 246.55,527.16 243.55,530.46 240.55,527.16" fill="#f01818"/>
<polygon points="266.55,508.15 269.55,511.45 266.55,514.75 263.55,511.45" fill="#f01818"/>
<polygon points="289.55,523.86 292.55,527.16 289.55,530.46 286.55,527.16" fill="#f01818"/>
<polygon points="312.55,523.86 315.55,527.16 312.55,530.46 309.55,527.16" fill="#f01818"/>
<polygon points="335.55,523.86 338.55,527.16 335.55,530.46 332.55,527.16" fill="#f01818"/>
<polygon points="358.55,539.57 361.55,542.87 358.55,546.17 355.55,542.87" fill="#f01818"/>
<polygon points="381.55,539.57 384.55,542.87 381.55,546.17 378.55,542.87" fill="#f01818"/>
<polyline points="82.55,590.00 105.55,582.14 128.55,590.00 151.55,590.00 174.55,590.00 197.55,590.00 220.55,590.00 243.55,590.00 266.55,582.14 289.55,590.00 312.55,590.00 335.55,586.07 358.55,590.00 381.55,590.00 404.55,590.00" fill="none" stroke="#a800e0" stroke-width="1.0" stroke-opacity="0.8"/>
<line x1="105.55" y1="573.50" x2="105.55" y2="590.00" stroke="#a800e0" stroke-width="1.2" stroke-opacity="0.65"/>
<line x1="102.55" y1="573.50" x2="108.55" y2="573.50" stroke="#a800e0" stroke-width="1.2" stroke-opacity="0.65"/>
<line x1="266.55" y1="578.22" x2="266.55" y2="586.07" stroke="#a800e0" stroke-width="1.2" stroke-opacity="0.65"/>
<line x1="263.55" y1="578.22" x2="269.55" y2="578.22" stroke="#a800e0" stroke-width="1.2" stroke-opacity="0.65"/>
<line x1="263.55" y1="586.07" x2="269.55" y2="586.07" stroke="#a800e0" stroke-width="1.2" stroke-opacity="0.65"/>
<polygon points="82.55,586.60 85.65,592.80 79.45,592.80" fill="#a800e0"/>
<polygon points="105.55,578.75 108.65,584.94 102.45,584.94" fill="#a800e0"/>
<polygon points="128.55,586.60 131.65,592.80 125.45,592.80" fill="#a800e0"/>
<polygon points="151.55,586.60 154.65,592.80 148.45,592.80" fill="#a800e0"/>
<polygon points="174.55,586.60 177.65,592.80 171.45,592.80" fill="#a800e0"/>
<polygon points="197.55,586.60 200.65,592.80 194.45,592.80" fill="#a800e0"/>
<polygon points="220.55,586.60 223.65,592.80 217.45,592.80" fill="#a800e0"/>
<polygon points="243.55,586.60 246.65,592.80 240.45,592.80" fill="#a800e0"/>
<polygon points="266.55,578.75 269.65,584.94 263.45,584.94" fill="#a800e0"/>
<polygon points="289.55,586.60 292.65,592.80 286.45,592.80" fill="#a800e0"/>
<polygon points="312.55,586.60 315.65,592.80 309.45,592.80" fill="#a800e0"/>
<polygon points="335.55,582.67 338.65,588.87 332.45,588.87" fill="#a800e0"/>
<polygon points="358.55,586.60 361.65,592.80 355.45,592.80" fill="#a800e0"/>
<polygon points="381.55,586.60 384.65,592.80 378.45,592.80" fill="#a800e0"/>
<polygon points="404.55,586.60 407.65,592.80 401.45,592.80" fill="#a800e0"/>
<polyline points="82.55,574.29 105.55,558.58 128.55,590.00 151.55,495.74 174.55,495.74 197.55,495.74 220.55,495.74 243.55,542.87 266.55,569.11 289.55,574.29 312.55,574.29 335.55,574.29 358.55,590.00 381.55,590.00 404.55,590.00" fill="none" stroke="#2a2af0" stroke-width="1.0" stroke-opacity="0.8"/>
<line x1="105.55" y1="531.87" x2="105.55" y2="585.29" stroke="#2a2af0" stroke-width="1.2" stroke-opacity="0.65"/>
<line x1="102.55" y1="531.87" x2="108.55" y2="531.87" stroke="#2a2af0" stroke-width="1.2" stroke-opacity="0.65"/>
<line x1="102.55" y1="585.29" x2="108.55" y2="585.29" stroke="#2a2af0" stroke-width="1.2" stroke-opacity="0.65"/>
<line x1="266.55" y1="559.99" x2="266.55" y2="578.22" stroke="#2a2af0" stroke-width="1.2" stroke-opacity="0.65"/>
<line x1="263.55" y1="559.99" x2="269.55" y2="559.99" stroke="#2a2af0" stroke-width="1.2" stroke-opacity="0.65"/>
<line x1="263.55" y1="578.22" x2="269.55" y2="578.22" stroke="#2a2af0" stroke-width="1.2" stroke-opacity="0.65"/>
<rect x="79.45" y="571.19" width="6.20" height="6.20" fill="#2a2af0"/>
<rect x="102.45" y="555.48" width="6.20" height="6.20" fill="#2a2af0"/>
<rect x="125.45" y="586.90" width="6.20" height="6.20" fill="#2a2af0"/>
<rect x="148.45" y="492.64" width="6.20" height="6.20" fill="#2a2af0"/>
<rect x="171.45" y="492.64" width="6.20" height="6.20" fill="#2a2af0"/>
<rect x="194.45" y="492.64" width="6.20" height="6.20" fill="#2a2af0"/>
<rect x="217.45" y="492.64" width="6.20" height="6.20" fill="#2a2af0"/>
<rect x="240.45" y="539.77" width="6.20" height="6.20" fill="#2a2af0"/>
<rect x="263.45" y="566.01" width="6.20" height="6.20" fill="#2a2af0"/>
<rect x="286.45" y="571.19" width="6.20" height="6.20" fill="#2a2af0"/>
<rect x="309.45" y="571.19" width="6.20" height="6.20" fill="#2a2af0"/>
<rect x="332.45" y="571.19" width="6.20" height="6.20" fill="#2a2af0"/>
<rect x="355.45" y="586.90" width="6.20" height="6.20" fill="#2a2af0"/>
<rect x="378.45" y="586.90" width="6.20" height="6.20" fill="#2a2af0"/>
<rect x="401.45" y="586.90" width="6.20" height="6.20" fill="#2a2af0"/>
<polyline points="82.55,586.07 105.55,586.07 128.55,590.00 151.55,590.00 174.55,590.00 197.55,586.07 220.55,590.00 243.55,590.00 266.55,590.00 289.55,590.00 312.55,582.14 335.55,586.07 358.55,586.07 381.55,590.00 404.55,590.00" fill="none" stroke="#0c8090" stroke-width="1.0" stroke-opacity="0.8"/>
<line x1="82.55" y1="578.22" x2="82.55" y2="590.00" stroke="#0c8090" stroke-width="1.2" stroke-opacity="0.65"/>
<line x1="79.55" y1="578.22" x2="85.55" y2="578.22" stroke="#0c8090" stroke-width="1.2" stroke-opacity="0.65"/>
<line x1="105.55" y1="578.22" x2="105.55" y2="590.00" stroke="#0c8090" stroke-width="1.2" stroke-opacity="0.65"/>
<line x1="102.55" y1="578.22" x2="108.55" y2="578.22" stroke="#0c8090" stroke-width="1.2" stroke-opacity="0.65"/>
<line x1="197.55" y1="579.00" x2="197.55" y2="590.00" stroke="#0c8090" stroke-width="1.2" stroke-opacity="0.65"/>
<line x1="194.55" y1="579.00" x2="200.55" y2="579.00" stroke="#0c8090" stroke-width="1.2" stroke-opacity="0.65"/>
<line x1="335.55" y1="578.22" x2="335.55" y2="590.00" stroke="#0c8090" stroke-width="1.2" stroke-opacity="0.65"/>
<line x1="332.55" y1="578.22" x2="338.55" y2="578.22" stroke="#0c8090" stroke-width="1.2" stroke-opacity="0.65"/>
<line x1="358.55" y1="579.00" x2="358.55" y2="590.00" stroke="#0c8090" stroke-width="1.2" stroke-opacity="0.65"/>
<line x1="355.55" y1="579.00" x2="361.55" y2="579.00" stroke="#0c8090" stroke-width="1.2" stroke-opacity="0.65"/>
<circle cx="82.55" cy="586.07" r="3.1" fill="#0c8090"/>
<circle cx="105.55" cy="586.07" r="3.1" fill="#0c8090"/>
<circle cx="128.55" cy="590.00" r="3.1" fill="#0c8090"/>
<circle cx="151.55" cy="590.00" r="3.1" fill="#0c8090"/>
<circle cx="174.55" cy="590.00" r="3.1" fill="#0c8090"/>
<circle cx="197.55" cy="586.07" r="3.1" fill="#0c8090"/>
<circle cx="220.55" cy="590.00" r="3.1" fill="#0c8090"/>
<circle cx="243.55" cy="590.00" r="3.1" fill="#0c8090"/>
<circle cx="266.55" cy="590.00" r="3.1" fill="#0c8090"/>
<circle cx="289.55" cy="590.00" r="3.1" fill="#0c8090"/>
<circle cx="312.55" cy="582.14" r="3.1" fill="#0c8090"/>
<circle cx="335.55" cy="586.07" r="3.1" fill="#0c8090"/>
<circle cx="358.55" cy="586.07" r="3.1" fill="#0c8090"/>
<circle cx="381.55" cy="590.00" r="3.1" fill="#0c8090"/>
<circle cx="404.55" cy="590.00" r="3.1" fill="#0c8090"/>
<line x1="429.9" y1="357.7" x2="446.0" y2="357.7" stroke="#0c8090" stroke-width="1.4" stroke-opacity="0.6"/>
<circle cx="438.00" cy="357.70" r="3.1" fill="#0c8090"/>
<text x="455.00" y="362.10" font-family='"Liberation Sans", sans-serif' font-size="12.25" font-weight="normal" text-anchor="start">E2-ferritin NPs</text>
<line x1="429.9" y1="377.6" x2="446.0" y2="377.6" stroke="#a800e0" stroke-width="1.4" stroke-opacity="0.6"/>
<polygon points="438.00,374.20 441.10,380.40 434.90,380.40" fill="#a800e0"/>
<text x="455.00" y="382.00" font-family='"Liberation Sans", sans-serif' font-size="12.25" font-weight="normal" text-anchor="start">SpyTag-E2</text>
<line x1="429.9" y1="397.5" x2="446.0" y2="397.5" stroke="#2a2af0" stroke-width="1.4" stroke-opacity="0.6"/>
<rect x="434.90" y="394.40" width="6.20" height="6.20" fill="#2a2af0"/>
<text x="455.00" y="401.90" font-family='"Liberation Sans", sans-serif' font-size="12.25" font-weight="normal" text-anchor="start">CV-E2</text>
<line x1="429.9" y1="417.4" x2="446.0" y2="417.4" stroke="#f01818" stroke-width="1.4" stroke-opacity="0.6" stroke-dasharray="1.8,1.3"/>
<polygon points="438.00,414.10 441.00,417.40 438.00,420.70 435.00,417.40" fill="#f01818"/>
<text x="455.00" y="421.80" font-family='"Liberation Sans", sans-serif' font-size="12.25" font-weight="normal" text-anchor="start">PBS-D1</text>
<line x1="429.9" y1="437.1" x2="446.0" y2="437.1" stroke="#f01818" stroke-width="1.4" stroke-opacity="0.6"/>
<polygon points="434.90,434.10 441.10,434.10 438.00,440.20" fill="#f01818"/>
<text x="455.00" y="441.50" font-family='"Liberation Sans", sans-serif' font-size="12.25" font-weight="normal" text-anchor="start">PBS-D2</text>
</svg>
</body></html>
